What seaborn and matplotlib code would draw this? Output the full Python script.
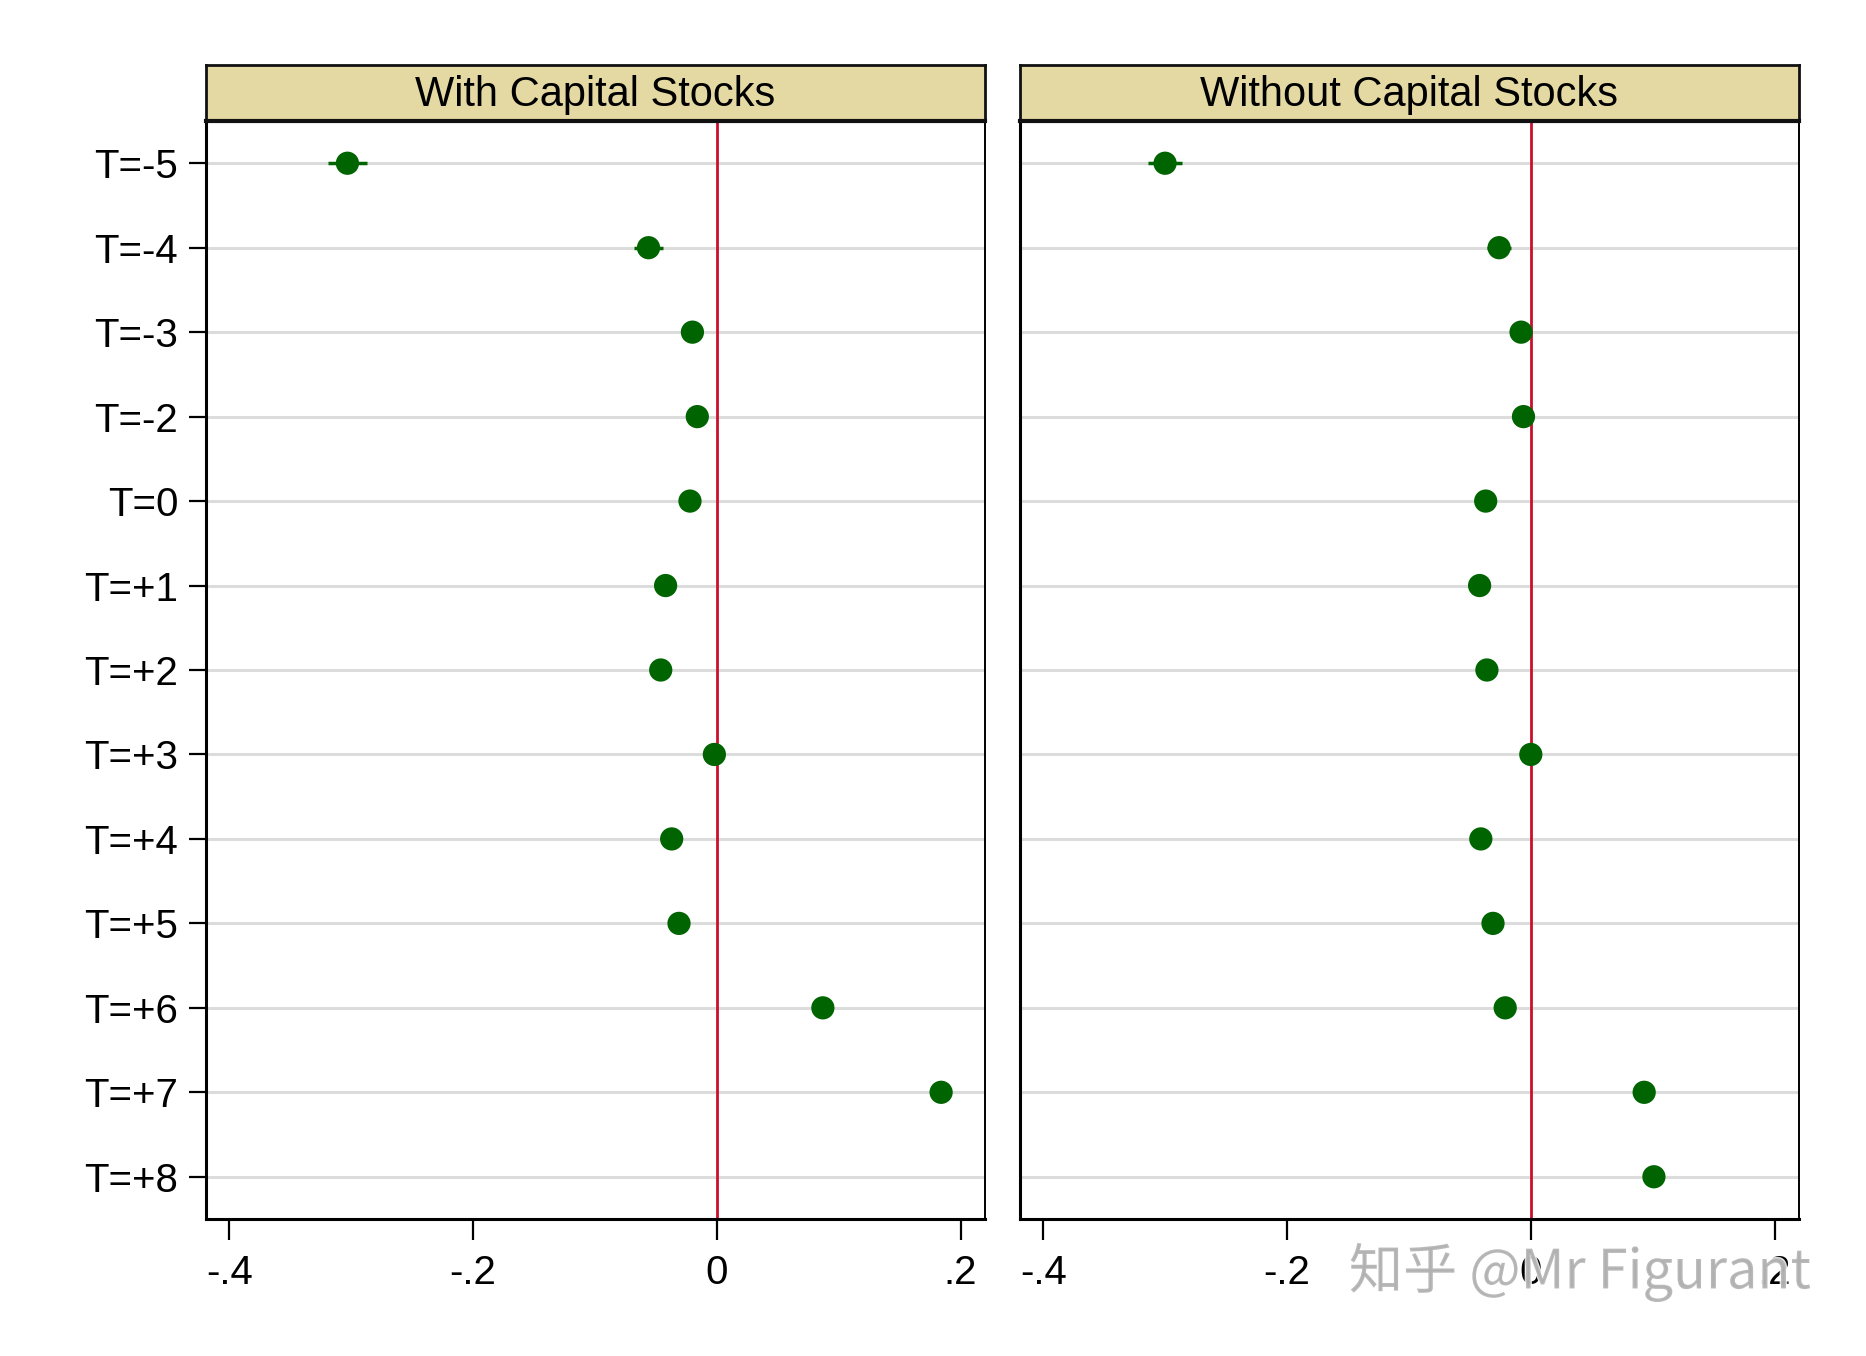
import matplotlib
matplotlib.use("Agg")
import matplotlib.pyplot as plt
import matplotlib.patheffects as pe
import numpy as np
import pandas as pd
import seaborn as sns

# ---------------------------------------------------------------------------
# Data
# ---------------------------------------------------------------------------
PERIODS = ["T=-5", "T=-4", "T=-3", "T=-2", "T=0", "T=+1", "T=+2",
           "T=+3", "T=+4", "T=+5", "T=+6", "T=+7", "T=+8"]
WITH_COEF = [-0.303, -0.056, -0.020, -0.016, -0.022, -0.042, -0.046,
             -0.002, -0.037, -0.031, 0.087, 0.184, np.nan]
WITH_CI = [0.016, 0.012, 0.005, 0.005, 0.005, 0.005, 0.005,
           0.005, 0.005, 0.005, 0.005, 0.006, np.nan]
WITHOUT_COEF = [-0.300, -0.026, -0.008, -0.006, -0.037, -0.042, -0.036,
                0.000, -0.041, -0.031, -0.021, 0.093, 0.101]
WITHOUT_CI = [0.014, 0.010, 0.005, 0.005, 0.005, 0.005, 0.005,
              0.005, 0.005, 0.005, 0.005, 0.006, 0.006]
PANELS = ["With Capital Stocks", "Without Capital Stocks"]
XTICKS = [-0.4, -0.2, 0.0, 0.2]
XTICK_LABELS = ["-.4", "-.2", "0", ".2"]

GREEN = "#006400"
RED = "#C8102E"
HEADER_FILL = "#E5D9A3"
GRID = "#DCDCDC"

sns.set_theme(style="white")
plt.rcParams["font.family"] = ["Liberation Sans", "DejaVu Sans"]
plt.rcParams["text.color"] = "black"
plt.rcParams["xtick.color"] = "black"
plt.rcParams["ytick.color"] = "black"
plt.rcParams["xtick.labelcolor"] = "black"
plt.rcParams["ytick.labelcolor"] = "black"

W, H = 1866, 1356
fig = plt.figure(figsize=(W / 100, H / 100), dpi=100)


def frac(x0, y0, x1, y1):
    # pixel box -> figure fraction rect
    return [x0 / W, 1 - y1 / H, (x1 - x0) / W, (y1 - y0) / H]


boxes = [(206, 985), (1020, 1799)]
rows = np.arange(len(PERIODS))
series = [(WITH_COEF, WITH_CI), (WITHOUT_COEF, WITHOUT_CI)]

for i, ((x0, x1), title, (coef, ci)) in enumerate(zip(boxes, PANELS, series)):
    ax = fig.add_axes(frac(x0, 121, x1, 1219))
    df = pd.DataFrame({"row": rows, "coef": coef, "ci": ci}).dropna()

    for r in rows:
        ax.axhline(r, color=GRID, lw=2.2, zorder=0)
    ax.axvline(0, color=RED, lw=2.0, zorder=1)

    ax.hlines(df["row"], df["coef"] - df["ci"], df["coef"] + df["ci"],
              color=GREEN, lw=2.5, zorder=2)
    sns.scatterplot(data=df, x="coef", y="row", ax=ax, color=GREEN,
                    s=280, edgecolor="none", zorder=3, legend=False)

    ax.set_xlim(-0.419, 0.220)
    ax.set_ylim(len(PERIODS) - 0.5, -0.5)
    ax.set_xlabel("")
    ax.set_ylabel("")
    ax.set_xticks(XTICKS)
    ax.set_xticklabels(XTICK_LABELS, fontsize=29)
    ax.tick_params(axis="x", length=15, width=1.6, color="black",
                   direction="out", pad=10, bottom=True)
    if i == 0:
        ax.set_yticks(rows)
        ax.set_yticklabels(PERIODS, fontsize=29)
        ax.tick_params(axis="y", length=12, width=1.6, color="black",
                       direction="out", pad=8, left=True)
    else:
        ax.set_yticks([])

    for side, sp in ax.spines.items():
        sp.set_visible(True)
        sp.set_color("black")
        sp.set_linewidth(2.2 if side in ("left", "bottom") else 1.4)

    # panel header strip
    hx = fig.add_axes(frac(x0, 65, x1, 121))
    hx.set_facecolor(HEADER_FILL)
    hx.set_xticks([])
    hx.set_yticks([])
    for side, sp in hx.spines.items():
        sp.set_visible(True)
        sp.set_color("#111111")
        sp.set_linewidth(3.0 if side == "bottom" else 2.0)
    hx.text(0.5, 0.47, title, ha="center", va="center", fontsize=30,
            color="black", transform=hx.transAxes)

fig.text(1580 / W, 1 - 1272 / H, "知乎 @Mr Figurant", ha="center", va="center",
         fontsize=39, color="#AFAFAF", alpha=0.85,
         family=["Noto Sans CJK SC", "DejaVu Sans"],
         path_effects=[pe.withStroke(linewidth=2, foreground="white")])

fig.savefig("out.png", dpi=100, facecolor="white")
